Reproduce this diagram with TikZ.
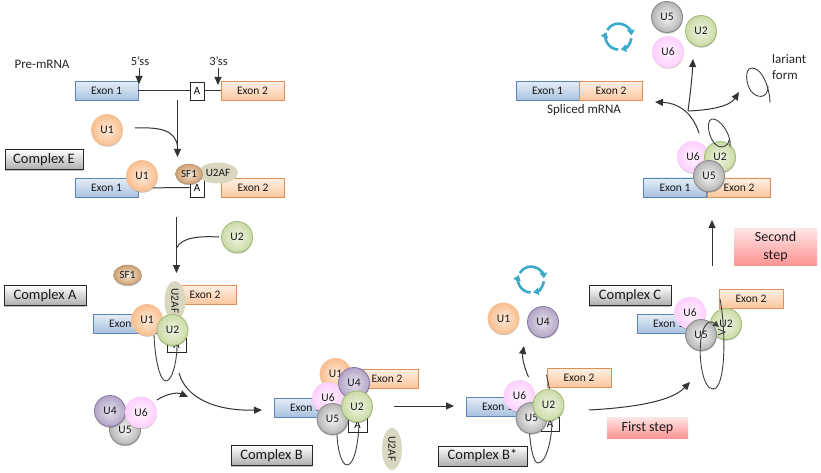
\documentclass[tikz,border=0pt]{standalone}
\usepackage{fontspec}
\setmainfont{Carlito}
\usetikzlibrary{arrows.meta,shapes.geometric,shadows}
\definecolor{ink}{HTML}{333333}
\definecolor{teal2}{HTML}{3BA9C9}
\definecolor{exonBlueLine}{HTML}{5B85B8}
\definecolor{exonBlueTop}{HTML}{E4ECF6}
\definecolor{exonBlueBot}{HTML}{A9C2E0}
\definecolor{exonOrLine}{HTML}{DE9058}
\definecolor{exonOrTop}{HTML}{FEF0E4}
\definecolor{exonOrBot}{HTML}{FBC79E}
\definecolor{afcol}{HTML}{DAD7C0}
\definecolor{uoI}{HTML}{FDEBDC}\definecolor{uoO}{HTML}{F9BE8E}\definecolor{uoL}{HTML}{F6C39A}
\definecolor{utI}{HTML}{EFF4E4}\definecolor{utO}{HTML}{CBDBA6}\definecolor{utL}{HTML}{A5BD78}
\definecolor{ufI}{HTML}{E6E0EE}\definecolor{ufO}{HTML}{B3A6C6}\definecolor{ufL}{HTML}{8D7CA8}
\definecolor{uvI}{HTML}{F8F8F8}\definecolor{uvO}{HTML}{B4B4B4}\definecolor{uvL}{HTML}{8C8C8C}
\definecolor{usI}{HTML}{FFF6FF}\definecolor{usO}{HTML}{FFCFFF}\definecolor{usL}{HTML}{F6D2F6}
\tikzset{
  softshadow/.style={drop shadow={shadow xshift=0.3pt,shadow yshift=-1.2pt,opacity=.25,fill=black}},
  exonA/.style={rectangle,draw=#1,minimum width=63pt,minimum height=19pt,inner sep=0pt,line width=.9pt,font=\fontsize{11.5}{13}\selectfont,text=black!90},
  exonB/.style={exonA=exonBlueLine,top color=exonBlueTop,bottom color=exonBlueBot},
  exonO/.style={exonA=exonOrLine,top color=exonOrTop,bottom color=exonOrBot},
  ubase/.style={circle,minimum size=31pt,inner sep=0pt,line width=.9pt,softshadow,font=\fontsize{11.5}{13}\selectfont,text=black!90},
  uOne/.style={ubase,draw=uoL,inner color=uoI,outer color=uoO},
  uTwo/.style={ubase,draw=utL,inner color=utI,outer color=utO},
  uFour/.style={ubase,draw=ufL,inner color=ufI,outer color=ufO},
  uFive/.style={ubase,draw=uvL,inner color=uvI,outer color=uvO},
  uSix/.style={ubase,draw=usL,inner color=usI,outer color=usO},
  sfnode/.style={ellipse,minimum width=#1,minimum height=20pt,inner sep=0pt,draw=brown!70!black!70,inner color=brown!20!white,outer color=brown!75!white,softshadow,font=\fontsize{11}{13}\selectfont,text=black!90},
  uafnode/.style={ellipse,minimum width=40pt,minimum height=21pt,inner sep=0pt,fill=afcol,font=\fontsize{11.2}{13}\selectfont,text=black!90},
  abox/.style={rectangle,draw=black!85,fill=white,inner sep=0pt,line width=.7pt,font=\fontsize{11}{13}\selectfont},
  cplx/.style={rectangle,draw=black!85,line width=.9pt,top color=white,bottom color=black!32,minimum height=20pt,inner sep=0pt,softshadow,font=\fontsize{14.5}{16}\selectfont,text=black!90},
  stepbox/.style={rectangle,top color=red!10!white,bottom color=red!42!white,inner sep=0pt,softshadow,align=center,font=\fontsize{14}{18}\selectfont,text=black!90},
  plain/.style={inner sep=0pt,text=black!85,font=\fontsize{13}{16}\selectfont},
  arr/.style={draw=ink,line width=1pt,-{Triangle[length=8pt,width=7pt]}},
  wire/.style={draw=ink,line width=1pt},
  loopw/.style={draw=black!75,line width=.9pt},
  cyc/.style={draw=teal2,line width=2.6pt,-{Triangle[length=5.5pt,width=7.5pt]}}
}
\begin{document}
\begin{tikzpicture}[x=1pt,y=-1pt]
\useasboundingbox (0,0) rectangle (821,473);
\fill[white] (0,0) rectangle (821,473);

% Pre-mRNA row
\node[plain] (premrna) at (42,64) {Pre-mRNA};
\node[plain,font=\fontsize{12.5}{14}\selectfont] (ss5) at (140,61) {5’ss};
\node[plain,font=\fontsize{12.5}{14}\selectfont] (ss3) at (218.5,61) {3’ss};
\node[exonB] (e1a) at (106.5,91) {Exon 1};
\node[abox,minimum width=14pt,minimum height=18pt] (aa) at (197,91) {A};
\node[exonO] (e2a) at (252.5,91) {Exon 2};
\draw[wire] (e1a.east) -- (aa.west);
\draw[wire] (aa.east) -- (e2a.west);
\coordinate (p5) at (139,84);
\coordinate (p3) at (218,85);
\draw[arr] (139,68) -- (p5);
\draw[arr] (218,68) -- (p3);

% step to complex E
\node[uOne] (u1a) at (107,130) {U1};
\coordinate (v1s) at (177.5,100);
\coordinate (v1e) at (177.5,157);
\coordinate (c1s) at (135,128);
\coordinate (c1e) at (177.5,146);
\draw[arr] (v1s) -- (v1e);
\draw[wire] (c1s) .. controls (160,127) and (175,130) .. (c1e);
\node[cplx,minimum width=78pt] (cE) at (44,159.5) {Complex E};

% Complex E row
\node[exonB] (e1b) at (106.5,188) {Exon 1};
\node[abox,minimum width=14pt,minimum height=19pt] (ab) at (197,187.5) {A};
\node[exonO] (e2b) at (253,188) {Exon 2};
\draw[wire] (e1b.east) -- (ab.west);
\node[uOne] (u1b) at (142,176) {U1};
\node[uafnode] (afb) at (218,173) {U2AF};
\node[sfnode=27pt] (sfb) at (189,174) {SF1};

% to complex A
\node[uTwo] (u2a) at (237,237) {U2};
\coordinate (v2s) at (176.5,217);
\coordinate (v2e) at (176.5,273);
\coordinate (c2s) at (219,237);
\coordinate (c2e) at (176.5,248);
\draw[arr] (v2s) -- (v2e);
\draw[wire] (c2s) .. controls (200,236) and (182,237) .. (c2e);
\node[sfnode=28pt] (sfa) at (127.5,275) {SF1};
\node[cplx,minimum width=82pt] (cA) at (45,295.5) {Complex A};

% Complex A
\node[exonO] (e2c) at (205,294.5) {Exon 2};
\node[exonB] (e1c) at (124.5,323.5) {Exon 1};
\node[abox,minimum width=19pt,minimum height=14pt] (ac) at (176.5,345) {A};
\coordinate (la) at (154,335);
\coordinate (lb) at (166,381);
\coordinate (lc) at (177,345);
\draw[loopw] (la) .. controls (155,360) and (160,381) .. (lb) .. controls (172,381) and (177,362) .. (lc);
\node[uafnode,rotate=-90] (afa) at (175,301) {U2AF};
\node[uOne] (u1c) at (147,320) {U1};
\node[uTwo] (u2c) at (172.5,330) {U2};

% U4 U5 U6 group
\node[uFive] (u5a) at (125,429.5) {U5};
\node[uFour] (u4a) at (110,411) {U4};
\node[uSix] (u6a) at (141,412.5) {U6};
\coordinate (d1s) at (157,400);
\coordinate (d1e) at (188,397);
\coordinate (d2s) at (179,373);
\coordinate (d2e) at (262,410);
\draw[arr] (d1s) .. controls (166,394) and (177,392) .. (d1e);
\draw[arr] (d2s) .. controls (186,398) and (215,411) .. (d2e);

% Complex B
\node[cplx,minimum width=81pt] (cB) at (271.5,455.5) {Complex B};
\node[exonO] (e2d) at (387,378.5) {Exon 2};
\node[exonB] (e1d) at (305.5,407.5) {Exon 1};
\node[abox,minimum width=19pt,minimum height=14pt] (ad) at (357.5,425) {A};
\coordinate (lba) at (337,425);
\coordinate (lbb) at (347,465);
\coordinate (lbc) at (359,425);
\draw[loopw] (lba) .. controls (336,445) and (341,465) .. (lbb) .. controls (354,465) and (358,445) .. (lbc);
\node[uOne] (u1d) at (335.5,374) {U1};
\node[uSix] (u6d) at (328,398) {U6};
\node[uFour] (u4d) at (354,383) {U4};
\node[uFive] (u5d) at (332.5,419) {U5};
\node[uTwo] (u2d) at (357,406.5) {U2};
\node[uafnode,rotate=-90,minimum width=42pt,minimum height=20pt] (afd) at (392,449) {U2AF};
\coordinate (f1s) at (394,406);
\coordinate (f1e) at (454,406);
\draw[arr] (f1s) -- (f1e);

% Complex B*
\node[cplx,minimum width=89pt] (cBs) at (482.5,456) {Complex B*};
\node[exonO,minimum width=64pt] (e2e) at (579,377.5) {Exon 2};
\node[exonB] (e1e) at (497.5,406.5) {Exon 1};
\node[abox,minimum width=18pt,minimum height=14pt] (ae) at (550,424) {A};
\coordinate (lca) at (529,425);
\coordinate (lcb) at (538,463);
\coordinate (lcc) at (546.5,375);
\draw[loopw] (lca) .. controls (530,445) and (533,463) .. (lcb) .. controls (546,463) and (552,440) .. (552,420) .. controls (552,400) and (550,390) .. (lcc);
\node[uSix] (u6e) at (519.5,396) {U6};
\node[uFive] (u5e) at (531.5,418) {U5};
\node[uTwo] (u2e) at (548.5,405) {U2};
\coordinate (g1s) at (528.5,377);
\coordinate (g1e) at (524,346);
\draw[arr] (g1s) .. controls (524,367) and (522,357) .. (g1e);
\node[uOne] (u1e) at (503.5,318.5) {U1};
\node[uFour] (u4e) at (543,322) {U4};
\coordinate (cyA) at (531,279.5);
\foreach \s/\e in {-150/-5,8/80,92/200} {
  \draw[cyc] ([shift={(\s:13)}]cyA) arc[start angle=-\s,end angle=-\e,radius=13pt];
}

% First step, Complex C
\node[stepbox,minimum width=81pt,minimum height=21pt] (st1) at (647.5,427.5) {First step};
\coordinate (h1s) at (589,410);
\coordinate (h1e) at (690,382);
\draw[arr] (h1s) .. controls (625,408) and (670,403) .. (h1e);
\node[cplx,minimum width=82pt] (cC) at (630,295.5) {Complex C};
\node[exonO,minimum width=64pt] (e2f) at (751,298.5) {Exon 2};
\node[exonB] (e1f) at (668.5,323.5) {Exon 1};
\node[uSix] (u6f) at (690,313) {U6};
\node[uTwo] (u2f) at (726,324) {U2};
\node[uFive] (u5f) at (701,335) {U5};
\coordinate (lda) at (720,299);
\coordinate (ldb) at (713,389);
\coordinate (ldc) at (719,327);
\draw[loopw,-{Triangle[length=6pt,width=6pt]}] (lda) .. controls (726,330) and (726,389) .. (ldb) .. controls (703,389) and (699,360) .. (700.5,345) .. controls (701,328) and (708,318) .. (ldc);
\draw[loopw] (718,329) -- (725,332) -- (718,335);

% Second step
\node[stepbox,minimum width=83pt,minimum height=37pt] (st2) at (775.5,246.5) {Second\\step};
\coordinate (k1s) at (712,266);
\coordinate (k1e) at (712,220);
\draw[arr] (k1s) -- (k1e);

% Post-spliceosome
\node[exonB] (e1g) at (675,187.5) {Exon 1};
\node[exonO] (e2g) at (739,187.5) {Exon 2};
\node[uSix] (u6g) at (693,157) {U6};
\node[uTwo] (u2g) at (720,157) {U2};
\node[uFive] (u5g) at (709,176) {U5};
\coordinate (lea) at (730,147);
\coordinate (leb) at (712,119);
\coordinate (lec) at (729,140);
\draw[loopw] (lea) .. controls (732,135) and (720,118) .. (leb) .. controls (704,120) and (710,148) .. (722,147) .. controls (727,146) and (729,143) .. (lec);

% Spliced mRNA
\node[exonB] (e1h) at (547.5,91) {Exon 1};
\node[exonO] (e2h) at (611,91) {Exon 2};
\node[plain] (spl) at (584,110.5) {Spliced mRNA};
\coordinate (m0) at (699,133);
\coordinate (m1) at (655,102);
\coordinate (m2) at (688,111);
\coordinate (m3) at (693,59);
\coordinate (m4) at (739,92);
\draw[arr] (m0) .. controls (692,112) and (678,103) .. (m1);
\draw[arr] (m2) .. controls (690,95) and (692,80) .. (m3);
\draw[arr] (m2) .. controls (712,110) and (730,106) .. (m4);
\coordinate (ra) at (770,103);
\coordinate (rb) at (752,68);
\coordinate (rc) at (768,86);
\draw[loopw] (ra) .. controls (770,90) and (763,68) .. (rb) .. controls (744,68) and (746,85) .. (751,91) .. controls (756,98) and (768,100) .. (rc);
\node[plain,anchor=west] (lar1) at (772,59) {lariant};
\node[plain,anchor=west] (lar2) at (772,75) {form};

% Released snRNPs
\node[uFive] (u5h) at (667,17) {U5};
\node[uTwo] (u2h) at (701,31) {U2};
\node[uSix] (u6h) at (668,52) {U6};
\coordinate (cyB) at (618.5,36.5);
\foreach \s/\e in {-150/-5,8/80,92/200} {
  \draw[cyc] ([shift={(\s:13)}]cyB) arc[start angle=-\s,end angle=-\e,radius=13pt];
}
\end{tikzpicture}
\end{document}
